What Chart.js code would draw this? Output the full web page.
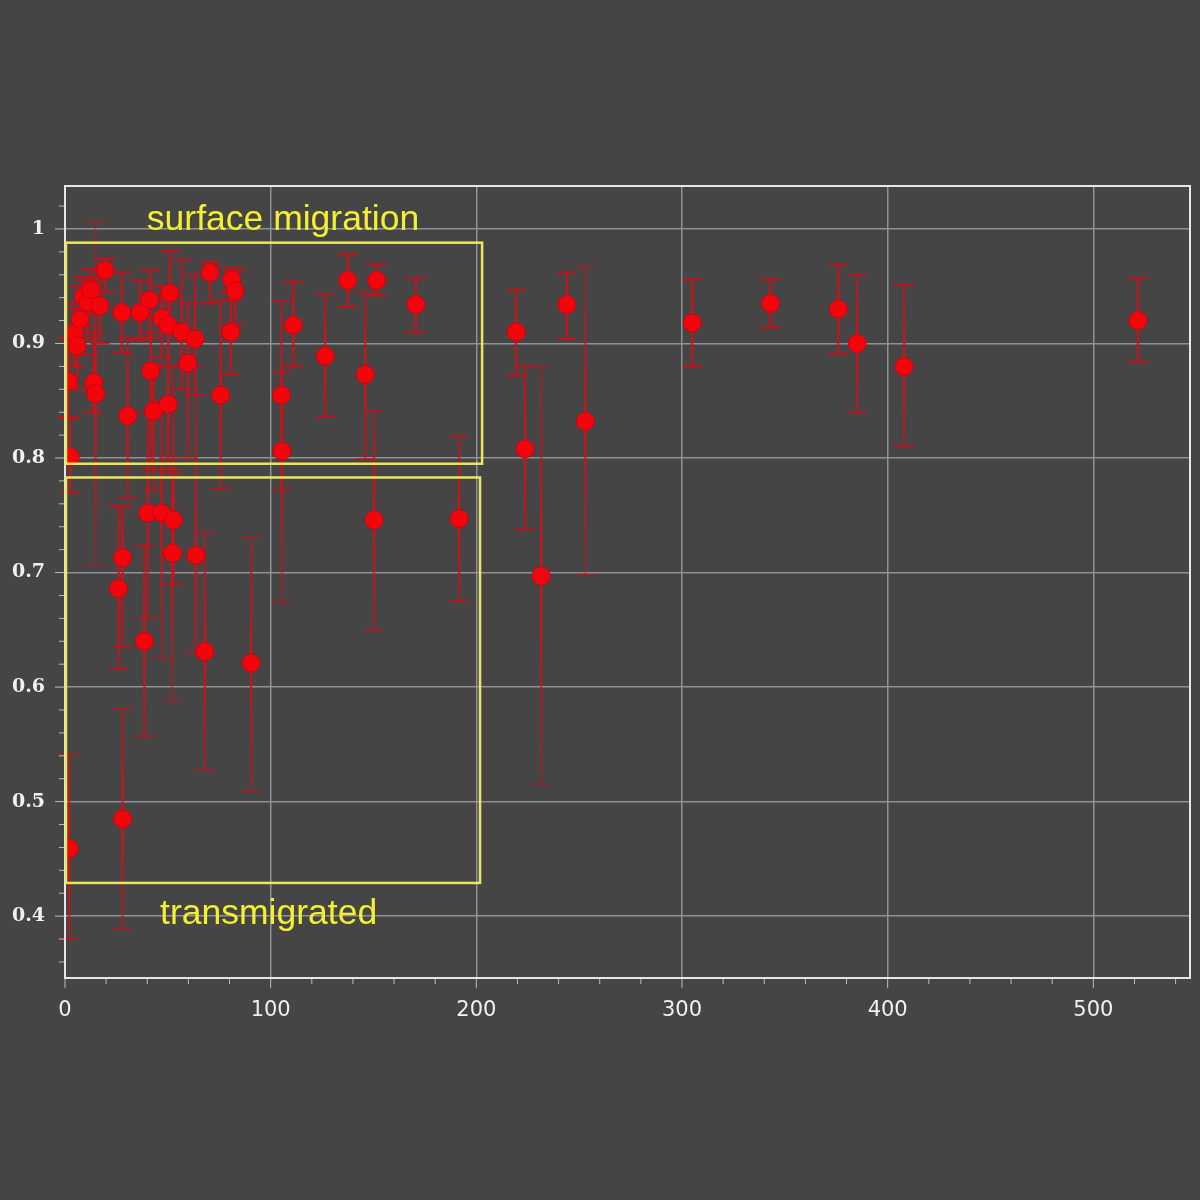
<!DOCTYPE html>
<html>
<head>
<meta charset="utf-8">
<script src="https://cdn.jsdelivr.net/npm/chart.js@4/dist/chart.umd.min.js"></script>
<style>
  body { margin: 0; background: #454545; }
  canvas { display: block; }
</style>
</head>
<body>
<canvas id="migrationChart" width="1200" height="1200"></canvas>
<script>
// measured values: x, mean y, upper and lower end of the error bar
const xVals = [1.5, 2.5, 4.5, 6.0, 7.3, 8.9, 11.0, 12.5, 14.0, 14.9, 17.0, 19.5, 27.6, 30.5, 36.5, 41.3, 41.7, 43.0, 47.0, 50.2,
  50.2, 51.0, 56.7, 59.7, 63.2, 70.5, 75.7, 80.6, 81.0, 82.7, 105.2, 105.5, 111.0, 126.5, 137.5, 146.0, 151.6, 170.6,
  150.3, 191.6, 219.4, 223.7, 231.5, 244.0, 253.0, 305.0, 343.0, 376.0, 385.2, 408.0, 521.7,
  26.0, 28.0, 28.0, 38.6, 40.2, 47.0, 52.7, 52.2, 63.6, 68.0, 90.5, 2.0];
const yVals = [0.867, 0.801, 0.909, 0.898, 0.921, 0.941, 0.936, 0.947, 0.866, 0.856, 0.933, 0.964, 0.927, 0.837, 0.927, 0.938, 0.876, 0.841, 0.922, 0.916,
  0.847, 0.944, 0.910, 0.883, 0.904, 0.962, 0.855, 0.910, 0.956, 0.946, 0.855, 0.806, 0.916, 0.889, 0.955, 0.873, 0.955, 0.934,
  0.746, 0.747, 0.910, 0.808, 0.697, 0.934, 0.832, 0.918, 0.935, 0.930, 0.900, 0.880, 0.920,
  0.686, 0.713, 0.485, 0.640, 0.752, 0.752, 0.746, 0.717, 0.715, 0.631, 0.621, 0.459];
const yHigh = [0.905, 0.835, 0.935, 0.930, 0.950, 0.958, 0.955, 0.965, 0.910, 1.006, 0.957, 0.974, 0.962, 0.905, 0.955, 0.964, 0.910, 0.882, 0.950, 0.945,
  0.880, 0.981, 0.973, 0.935, 0.960, 0.971, 0.938, 0.945, 0.966, 0.963, 0.937, 0.875, 0.954, 0.943, 0.978, 0.945, 0.969, 0.957,
  0.841, 0.819, 0.947, 0.880, 0.880, 0.962, 0.967, 0.956, 0.956, 0.969, 0.960, 0.951, 0.957,
  0.758, 0.758, 0.581, 0.724, 0.840, 0.850, 0.880, 0.787, 0.880, 0.735, 0.731, 0.541];
const yLow = [0.836, 0.770, 0.880, 0.860, 0.890, 0.915, 0.905, 0.925, 0.840, 0.706, 0.900, 0.945, 0.892, 0.765, 0.903, 0.905, 0.790, 0.772, 0.888, 0.800,
  0.790, 0.915, 0.860, 0.800, 0.855, 0.935, 0.773, 0.873, 0.938, 0.917, 0.772, 0.674, 0.880, 0.836, 0.932, 0.799, 0.942, 0.910,
  0.650, 0.675, 0.872, 0.738, 0.515, 0.904, 0.698, 0.880, 0.914, 0.891, 0.840, 0.810, 0.884,
  0.616, 0.635, 0.389, 0.557, 0.660, 0.625, 0.690, 0.588, 0.630, 0.528, 0.509, 0.380];

// the two highlighted regions (data units)
const regions = [
  { label: 'surface migration', x0: 0, x1: 202.8, y0: 0.795, y1: 0.988, labelX: 106, labelY: 1.008 },
  { label: 'transmigrated', x0: 0, x1: 201.8, y0: 0.429, y1: 0.783, labelX: 99, labelY: 0.402 }
];

const points = xVals.map((x, i) => ({ x: x, y: yVals[i] }));

const errorBars = {
  id: 'errorBars',
  beforeDatasetsDraw(chart) {
    const ctx = chart.ctx;
    const xs = chart.scales.x, ys = chart.scales.y;
    ctx.save();
    ctx.lineWidth = 2.2;
    xVals.forEach((x, i) => {
      const px = xs.getPixelForValue(x);
      const py = ys.getPixelForValue(yVals[i]);
      [yHigh[i], yLow[i]].forEach(v => {
        const pe = ys.getPixelForValue(v);
        const d = Math.abs(pe - py);
        const endAlpha = Math.max(0.4, 1 - d / 280);
        const g = ctx.createLinearGradient(px, py, px, pe);
        g.addColorStop(0, 'rgba(220,14,24,1)');
        g.addColorStop(1, 'rgba(205,14,24,' + endAlpha + ')');
        ctx.strokeStyle = g;
        ctx.beginPath();
        ctx.moveTo(px, py);
        ctx.lineTo(px, pe);
        ctx.stroke();
        ctx.strokeStyle = 'rgba(205,14,24,' + endAlpha + ')';
        ctx.beginPath();
        ctx.moveTo(px - 10, pe);
        ctx.lineTo(px + 10, pe);
        ctx.stroke();
      });
    });
    ctx.restore();
  }
};

const extras = {
  id: 'extras',
  afterDraw(chart) {
    const ctx = chart.ctx;
    const xs = chart.scales.x, ys = chart.scales.y;
    const area = chart.chartArea;
    ctx.save();
    // minor ticks outside the axes
    ctx.strokeStyle = '#bdbdbd';
    ctx.lineWidth = 1;
    for (let v = 0; v <= 540; v += 20) {
      const px = xs.getPixelForValue(v);
      const len = v % 100 === 0 ? 10 : 6;
      ctx.beginPath();
      ctx.moveTo(px, area.bottom);
      ctx.lineTo(px, area.bottom + len);
      ctx.stroke();
    }
    for (let k = 18; k <= 51; k++) {
      const v = k / 50;
      const py = ys.getPixelForValue(v);
      if (py < area.top || py > area.bottom) continue;
      const len = k % 5 === 0 ? 10 : 6;
      ctx.beginPath();
      ctx.moveTo(area.left, py);
      ctx.lineTo(area.left - len, py);
      ctx.stroke();
    }
    // plot frame
    ctx.strokeStyle = '#e6e6e6';
    ctx.lineWidth = 2;
    ctx.strokeRect(area.left, area.top, area.right - area.left, area.bottom - area.top);
    // region boxes and labels
    ctx.strokeStyle = '#ece65a';
    ctx.lineWidth = 2.5;
    ctx.fillStyle = '#f4f030';
    ctx.font = '35.5px "Liberation Sans", Arial, sans-serif';
    ctx.textAlign = 'center';
    ctx.textBaseline = 'middle';
    regions.forEach(r => {
      const x0 = xs.getPixelForValue(r.x0), x1 = xs.getPixelForValue(r.x1);
      const y0 = ys.getPixelForValue(r.y0), y1 = ys.getPixelForValue(r.y1);
      ctx.strokeRect(x0 + 1, y1, x1 - x0 - 1, y0 - y1);
      ctx.fillText(r.label, xs.getPixelForValue(r.labelX), ys.getPixelForValue(r.labelY));
    });
    ctx.restore();
  }
};

new Chart(document.getElementById('migrationChart').getContext('2d'), {
  type: 'scatter',
  data: {
    datasets: [{
      data: points,
      backgroundColor: '#f2060c',
      borderColor: '#d00010',
      borderWidth: 1,
      pointRadius: 9,
      pointHoverRadius: 9
    }]
  },
  options: {
    responsive: false,
    devicePixelRatio: 1,
    animation: false,
    layout: { padding: { left: 0, top: 186, right: 10, bottom: 172 } },
    plugins: { legend: { display: false }, tooltip: { enabled: false } },
    scales: {
      x: {
        type: 'linear',
        min: 0,
        max: 547,
        afterFit(scale) {
          scale.height = 50;
          scale.paddingLeft = 0;
          scale.paddingRight = 0;
        },
        grid: { color: '#8d9299', lineWidth: 1.5, drawTicks: false },
        border: { display: false },
        ticks: {
          stepSize: 100,
          padding: 20,
          color: '#f0f0f0',
          font: { family: '"DejaVu Sans"', size: 21 },
          callback: v => (v % 100 === 0 ? String(v) : '')
        }
      },
      y: {
        type: 'linear',
        min: 0.346,
        max: 1.0375,
        afterFit(scale) {
          scale.width = 65;
          scale.paddingTop = 0;
          scale.paddingBottom = 0;
        },
        afterBuildTicks(scale) {
          scale.ticks = [0.4, 0.5, 0.6, 0.7, 0.8, 0.9, 1].map(v => ({ value: v }));
        },
        grid: { color: '#8d9299', lineWidth: 1.5, drawTicks: false },
        border: { display: false },
        ticks: {
          padding: 20,
          color: '#f0f0f0',
          font: { family: '"DejaVu Serif"', size: 19, weight: 'bold' },
          callback: v => (v === 1 ? '1' : v.toFixed(1))
        }
      }
    }
  },
  plugins: [errorBars, extras]
});
</script>
</body>
</html>
